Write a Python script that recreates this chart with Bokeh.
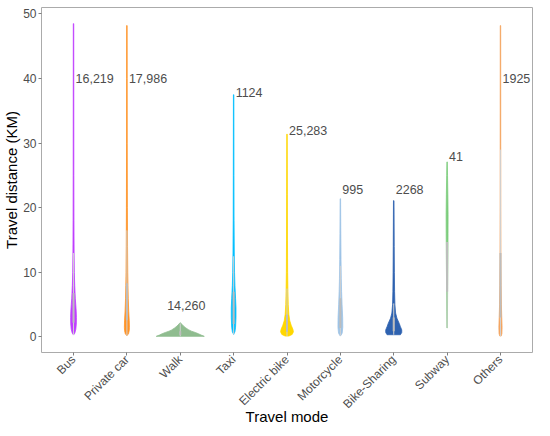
import math
import numpy as np
from bokeh.plotting import figure
from bokeh.models import FixedTicker, Range1d
from bokeh.core.properties import value
from bokeh.embed import file_html
from bokeh.resources import INLINE

modes = ["Bus", "Private car", "Walk", "Taxi", "Electric bike",
         "Motorcycle", "Bike-Sharing", "Subway", "Others"]
counts = ["16,219", "17,986", "14,260", "1124", "25,283", "995", "2268", "41", "1925"]
label_y = [40, 40, 4.9, 37.9, 31.9, 22.9, 22.9, 27.9, 40]

# violin profiles: distance (km) and half-width (in category units)
bus_y = [0.3, 0.6, 1.2, 2, 3, 4, 5, 6, 8, 10, 13, 18, 25, 35, 48.5]
bus_w = [0.0, 0.024, 0.043, 0.052, 0.054, 0.050, 0.042, 0.033, 0.022, 0.015, 0.011, 0.008, 0.006, 0.005, 0.004]
car_y = [0.2, 0.5, 1, 1.5, 2.5, 4, 6, 8, 10, 14, 20, 30, 40, 48.2]
car_w = [0.0, 0.030, 0.044, 0.047, 0.044, 0.034, 0.025, 0.020, 0.016, 0.012, 0.009, 0.006, 0.005, 0.004]
walk_y = [0.1, 0.3, 0.5, 0.7, 0.9, 1.1, 1.4, 1.7, 2.0, 2.2]
walk_w = [0.45, 0.39, 0.34, 0.28, 0.21, 0.16, 0.105, 0.06, 0.025, 0.004]
taxi_y = [0.4, 0.8, 1.5, 3, 4.5, 6, 8, 10, 13, 18, 25, 37.5]
taxi_w = [0.0, 0.024, 0.036, 0.044, 0.044, 0.036, 0.024, 0.017, 0.012, 0.008, 0.006, 0.004]
ebike_y = [0.15, 0.4, 0.8, 1.2, 1.8, 2.5, 3.5, 5, 7, 10, 15, 22, 31.4]
ebike_w = [0.035, 0.097, 0.120, 0.110, 0.079, 0.052, 0.034, 0.023, 0.017, 0.012, 0.009, 0.007, 0.004]
moto_y = [0.2, 0.6, 1.5, 3, 5, 7, 9, 12, 16, 21.4]
moto_w = [0.008, 0.034, 0.045, 0.043, 0.032, 0.023, 0.017, 0.012, 0.008, 0.004]
bikes_y = [0.35, 0.7, 1.1, 1.6, 2.1, 2.9, 3.7, 5, 7, 10, 14, 21.1]
bikes_w = [0.125, 0.150, 0.150, 0.125, 0.103, 0.060, 0.035, 0.022, 0.016, 0.012, 0.009, 0.005]
subway_y = [1.4, 4, 8, 12, 16, 19, 22, 25, 27.1]
subway_w = [0.003, 0.007, 0.010, 0.014, 0.017, 0.018, 0.014, 0.008, 0.003]
others_y = [0.15, 0.5, 1.5, 3, 5, 8, 12, 20, 30, 48.2]
others_w = [0.013, 0.026, 0.030, 0.024, 0.017, 0.012, 0.009, 0.006, 0.005, 0.004]

profiles_y = [bus_y, car_y, walk_y, taxi_y, ebike_y, moto_y, bikes_y, subway_y, others_y]
profiles_w = [bus_w, car_w, walk_w, taxi_w, ebike_w, moto_w, bikes_w, subway_w, others_w]

# inner boxplot: whisker low, q1, q3, whisker high
whisk_lo = [0.3, 0.2, 0.1, 0.4, 0.15, 0.2, 0.35, 1.4, 0.15]
q1 = [2.2, 2.6, 0.3, 2.0, 0.8, 1.4, 0.9, 7.0, 3.0]
q3 = [6.8, 8.3, 0.9, 7.0, 3.5, 6.0, 3.0, 14.7, 13.0]
whisk_hi = [13.0, 16.5, 2.1, 12.5, 7.5, 11.0, 5.2, 14.7, 29.0]

colors = ["#BF3EFF", "#FF9326", "#8FBC8F", "#00BFFF", "#FFD700",
          "#9DC3E6", "#2E62B0", "#7CCD7C", "#F4A460"]

positions = list(range(1, len(modes) + 1))

p = figure(width=534, height=427, output_backend="svg", toolbar_location=None,
           x_range=Range1d(0.4, 9.6), y_range=Range1d(-2.4, 51.0),
           min_border_left=0, min_border_right=2, min_border_top=7, min_border_bottom=0)

for pos, ys, ws, c in zip(positions, profiles_y, profiles_w, colors):
    ys = np.array(ys, dtype=float)
    ws = np.array(ws, dtype=float)
    xs = np.concatenate([pos - ws, (pos + ws)[::-1]])
    yy = np.concatenate([ys, ys[::-1]])
    p.patch(xs, yy, fill_color=c, line_color=c, line_width=0.8)

p.segment(x0=positions, y0=whisk_lo, x1=positions, y1=whisk_hi,
          line_color="#D0D0D0", line_width=1)
p.segment(x0=positions, y0=q1, x1=positions, y1=q3,
          line_color="#BDBDBD", line_width=2)

left_idx = [i for i in range(len(modes)) if modes[i] != "Walk"]
p.text(x=[positions[i] for i in left_idx], y=[label_y[i] for i in left_idx],
       text=[counts[i] for i in left_idx], text_align="left", text_baseline="middle",
       x_offset=2, text_font=value("Liberation Sans"), text_font_size="12.5px",
       text_color="#4D4D4D")
wi = modes.index("Walk")
p.text(x=[positions[wi]], y=[label_y[wi]], text=[counts[wi]], text_align="center",
       text_baseline="middle", x_offset=6, text_font=value("Liberation Sans"),
       text_font_size="12.5px", text_color="#4D4D4D")

p.xaxis.ticker = FixedTicker(ticks=positions)
p.xaxis.major_label_overrides = {pos: m for pos, m in zip(positions, modes)}
p.xaxis.major_label_orientation = math.pi / 4
p.yaxis.ticker = FixedTicker(ticks=[0, 10, 20, 30, 40, 50])

for ax in (p.xaxis, p.yaxis):
    ax.axis_line_color = None
    ax.major_tick_line_color = "#7F7F7F"
    ax.major_tick_in = 0
    ax.major_tick_out = 3
    ax.minor_tick_line_color = None
    ax.major_label_text_font = "Liberation Sans"
    ax.major_label_text_font_size = "12px"
    ax.major_label_text_color = "#4D4D4D"
    ax.axis_label_text_font = "Liberation Sans"
    ax.axis_label_text_font_size = "15px"
    ax.axis_label_text_font_style = "normal"
    ax.axis_label_text_color = "#000000"
    ax.major_label_standoff = 2

p.xaxis.axis_label = "Travel mode"
p.yaxis.axis_label = "Travel distance (KM)"
p.xaxis.axis_label_standoff = -11
p.yaxis.axis_label_standoff = 0

p.xgrid.grid_line_color = None
p.ygrid.grid_line_color = None
p.outline_line_color = "#ABABAB"
p.outline_line_width = 1
p.background_fill_color = "white"
p.border_fill_color = "white"

open("out.html", "w").write(file_html(p, INLINE))
